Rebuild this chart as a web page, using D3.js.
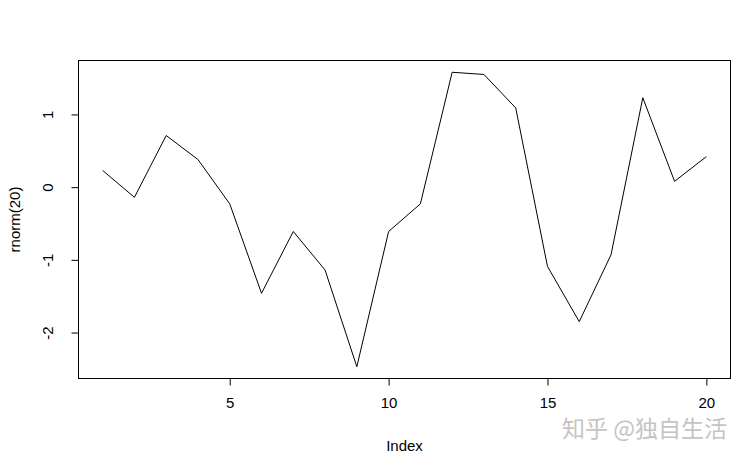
<!DOCTYPE html>
<meta charset="utf-8">
<style>
body { margin: 0; background: #fff; }
text { font-family: Arial, "Liberation Sans", sans-serif; }
</style>
<svg width="746" height="458"></svg>
<script src="https://cdnjs.cloudflare.com/ajax/libs/d3/7.8.5/d3.min.js"></script>
<script>

var index = d3.range(1, 21);
var values = [0.23, -0.14, 0.71, 0.38, -0.23, -1.46, -0.61, -1.14, -2.47, -0.61,
              -0.23, 1.58, 1.55, 1.09, -1.09, -1.85, -0.93, 1.23, 0.08, 0.42];
var xTicks = [5, 10, 15, 20];
var yTicks = [-2, -1, 0, 1];

var svg = d3.select("svg"),
    boxLeft = 78.5, boxRight = 730.5, boxTop = 60.5, boxBottom = 378.5;

// R pads the data range by 4% on each side
var xr = d3.extent(index), yr = d3.extent(values);
var xpad = (xr[1] - xr[0]) * 0.04, ypad = (yr[1] - yr[0]) * 0.04;

var x = d3.scaleLinear()
    .domain([xr[0] - xpad, xr[1] + xpad])
    .range([boxLeft, boxRight]);

var y = d3.scaleLinear()
    .domain([yr[0] - ypad, yr[1] + ypad])
    .range([boxBottom, boxTop]);

var line = d3.line()
    .x(function(d, i) { return x(index[i]); })
    .y(function(d) { return y(d); });

svg.append("path")
    .datum(values)
    .attr("d", line)
    .attr("fill", "none")
    .attr("stroke", "#000")
    .attr("stroke-width", 1);

svg.append("rect")
    .attr("x", boxLeft).attr("y", boxTop)
    .attr("width", boxRight - boxLeft).attr("height", boxBottom - boxTop)
    .attr("fill", "none").attr("stroke", "#000");

var fmt = function(d) { return String(d); };

var xAxis = svg.append("g")
    .attr("transform", "translate(0," + boxBottom + ")")
    .call(d3.axisBottom(x).tickValues(xTicks).tickFormat(fmt).tickSize(7).tickPadding(12));

var yAxis = svg.append("g")
    .attr("transform", "translate(" + boxLeft + ",0)")
    .call(d3.axisLeft(y).tickValues(yTicks).tickFormat(fmt).tickSize(7).tickPadding(12));

[xAxis, yAxis].forEach(function(g) {
  g.select(".domain").remove();
  g.selectAll("line").attr("stroke", "#000");
  g.selectAll("text")
      .attr("fill", "#000")
      .style("font-size", "15px")
      .style("font-family", "Arial, 'Liberation Sans', sans-serif");
});

// R draws y tick labels rotated
yAxis.selectAll(".tick text")
    .attr("x", null)
    .attr("text-anchor", "middle")
    .attr("transform", "translate(-31,0) rotate(-90)")
    .attr("dy", "0.35em");

svg.append("text")
    .attr("x", (boxLeft + boxRight) / 2)
    .attr("y", 451)
    .attr("text-anchor", "middle")
    .style("font-size", "15px")
    .text("Index");

svg.append("text")
    .attr("transform", "translate(20," + (boxTop + boxBottom) / 2 + ") rotate(-90)")
    .attr("text-anchor", "middle")
    .style("font-size", "15px")
    .text("rnorm(20)");

svg.append("text")
    .attr("x", 727)
    .attr("y", 437)
    .attr("text-anchor", "end")
    .attr("fill", "#c4c4c4")
    .style("font-family", "'Noto Sans CJK SC', sans-serif")
    .style("font-size", "23px")
    .text("知乎 @独自生活");

</script>
